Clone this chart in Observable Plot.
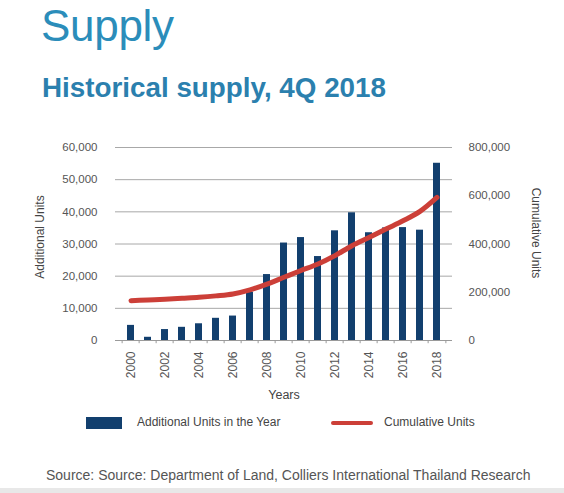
<!DOCTYPE html>
<html>
<head>
<meta charset="utf-8">
<script src="https://cdn.jsdelivr.net/npm/d3@7"></script>
<script src="https://cdn.jsdelivr.net/npm/@observablehq/plot@0.6"></script>
<style>
  html, body { margin: 0; padding: 0; background: #fff; }
  #wrap { position: relative; width: 564px; height: 493px; overflow: hidden; font-family: "Liberation Sans", Arial, sans-serif; background:#fff; }
  .abs { position: absolute; white-space: nowrap; }
  #title { left: 41px; top: 4px; font-size: 44px; color: #2b8dba; line-height: 1; letter-spacing: -0.3px; }
  #subtitle { left: 42px; top: 74px; font-size: 27.8px; font-weight: bold; color: #2b80ae; line-height: 1; }
  #chart { position: absolute; left: 0; top: 130px; }
  .leg-text { font-size: 12px; color: #444; }
  #source { left: 46px; top: 467px; font-size: 14px; color: #555; }
  #footer { left: 0; top: 488px; width: 564px; height: 5px; background: #e8e8e8; }
</style>
</head>
<body>
<div id="wrap">
  <div id="title" class="abs">Supply</div>
  <div id="subtitle" class="abs">Historical supply, 4Q 2018</div>
  <div id="chart"></div>
  <div class="abs" style="left:86px; top:417px; width:36px; height:12px; background:#123f6e;"></div>
  <div class="abs leg-text" style="left:137px; top:415px;">Additional Units in the Year</div>
  <div class="abs" style="left:331px; top:421px; width:42px; height:4px; border-radius:2px; background:#cc3f38;"></div>
  <div class="abs leg-text" style="left:384px; top:415px;">Cumulative Units</div>
  <div id="source" class="abs">Source: Source: Department of Land, Colliers International Thailand Research</div>
  <div id="footer" class="abs"></div>
</div>
<script>
const years = [2000, 2001, 2002, 2003, 2004, 2005, 2006, 2007, 2008, 2009,
               2010, 2011, 2012, 2013, 2014, 2015, 2016, 2017, 2018];
const additionalUnits = [4700, 1000, 3400, 4100, 5200, 6900, 7600, 15000, 20500, 30300,
                         32000, 26100, 34100, 39700, 33500, 35000, 35100, 34300, 55100];
const cumulativeUnits = [165000, 168000, 171000, 175000, 179000, 185000, 193000, 210000, 234000, 262000,
                         290000, 317000, 352000, 393000, 427000, 462000, 496000, 535000, 593000];
const leftTicks = [0, 10000, 20000, 30000, 40000, 50000, 60000];
const rightTicks = [0, 200000, 400000, 600000, 800000];
const xTickYears = [2000, 2002, 2004, 2006, 2008, 2010, 2012, 2014, 2016, 2018];

const RATIO = 60000 / 800000;
const data = years.map((y, i) => ({year: y, add: additionalUnits[i], cum: cumulativeUnits[i]}));

const W = 564, H = 280, ML = 115, MR = 112;
const step = (W - ML - MR) / years.length;
const fmt = d3.format(",");

const chart = Plot.plot({
  width: W,
  height: H,
  marginTop: 17,
  marginBottom: 70,
  marginLeft: ML,
  marginRight: MR,
  style: {fontFamily: "'Liberation Sans', Arial, sans-serif", fontSize: "11.5px", color: "#555", background: "transparent"},
  x: {type: "band", domain: years, paddingInner: 0.58, paddingOuter: 0.29},
  y: {domain: [0, 60000]},
  marks: [
    Plot.gridY(leftTicks, {stroke: "#a8a8a8", strokeOpacity: 1, strokeWidth: 1}),
    Plot.ruleY([0], {stroke: "#9a9a9a"}),
    Plot.ruleX(years, {x: d => d, y1: 0, y2: -1000, dx: -step / 2, stroke: "#9a9a9a"}),
    Plot.ruleX([2018], {x: d => d, y1: 0, y2: -1000, dx: step / 2, stroke: "#9a9a9a"}),
    Plot.barY(data, {x: "year", y: "add", fill: "#123f6e"}),
    Plot.line(data, {x: "year", y: d => d.cum * RATIO, stroke: "#cc3f38", strokeWidth: 5, strokeLinecap: "round", curve: "monotone-x"}),
    Plot.axisY(leftTicks, {anchor: "left", tickSize: 0, tickPadding: 18, tickFormat: fmt, label: null}),
    Plot.axisY(rightTicks.map(v => v * RATIO), {anchor: "right", tickSize: 0, tickPadding: 16, tickFormat: v => fmt(Math.round(v / RATIO)), label: null}),
    Plot.axisX(xTickYears, {tickRotate: -90, tickSize: 0, tickPadding: 11, tickFormat: d => String(d), fontSize: 12, label: null}),
    Plot.text(["Additional Units"], {frameAnchor: "left", dx: -75, dy: -7, rotate: -90, textAnchor: "middle", fontSize: 12, fill: "#444"}),
    Plot.text(["Cumulative Units"], {frameAnchor: "right", dx: 83, dy: -11, rotate: 90, textAnchor: "middle", fontSize: 12, fill: "#444"}),
    Plot.text(["Years"], {frameAnchor: "bottom", dy: 58, fontSize: 12.5, fill: "#444"})
  ]
});
document.getElementById("chart").appendChild(chart);
</script>
</body>
</html>
